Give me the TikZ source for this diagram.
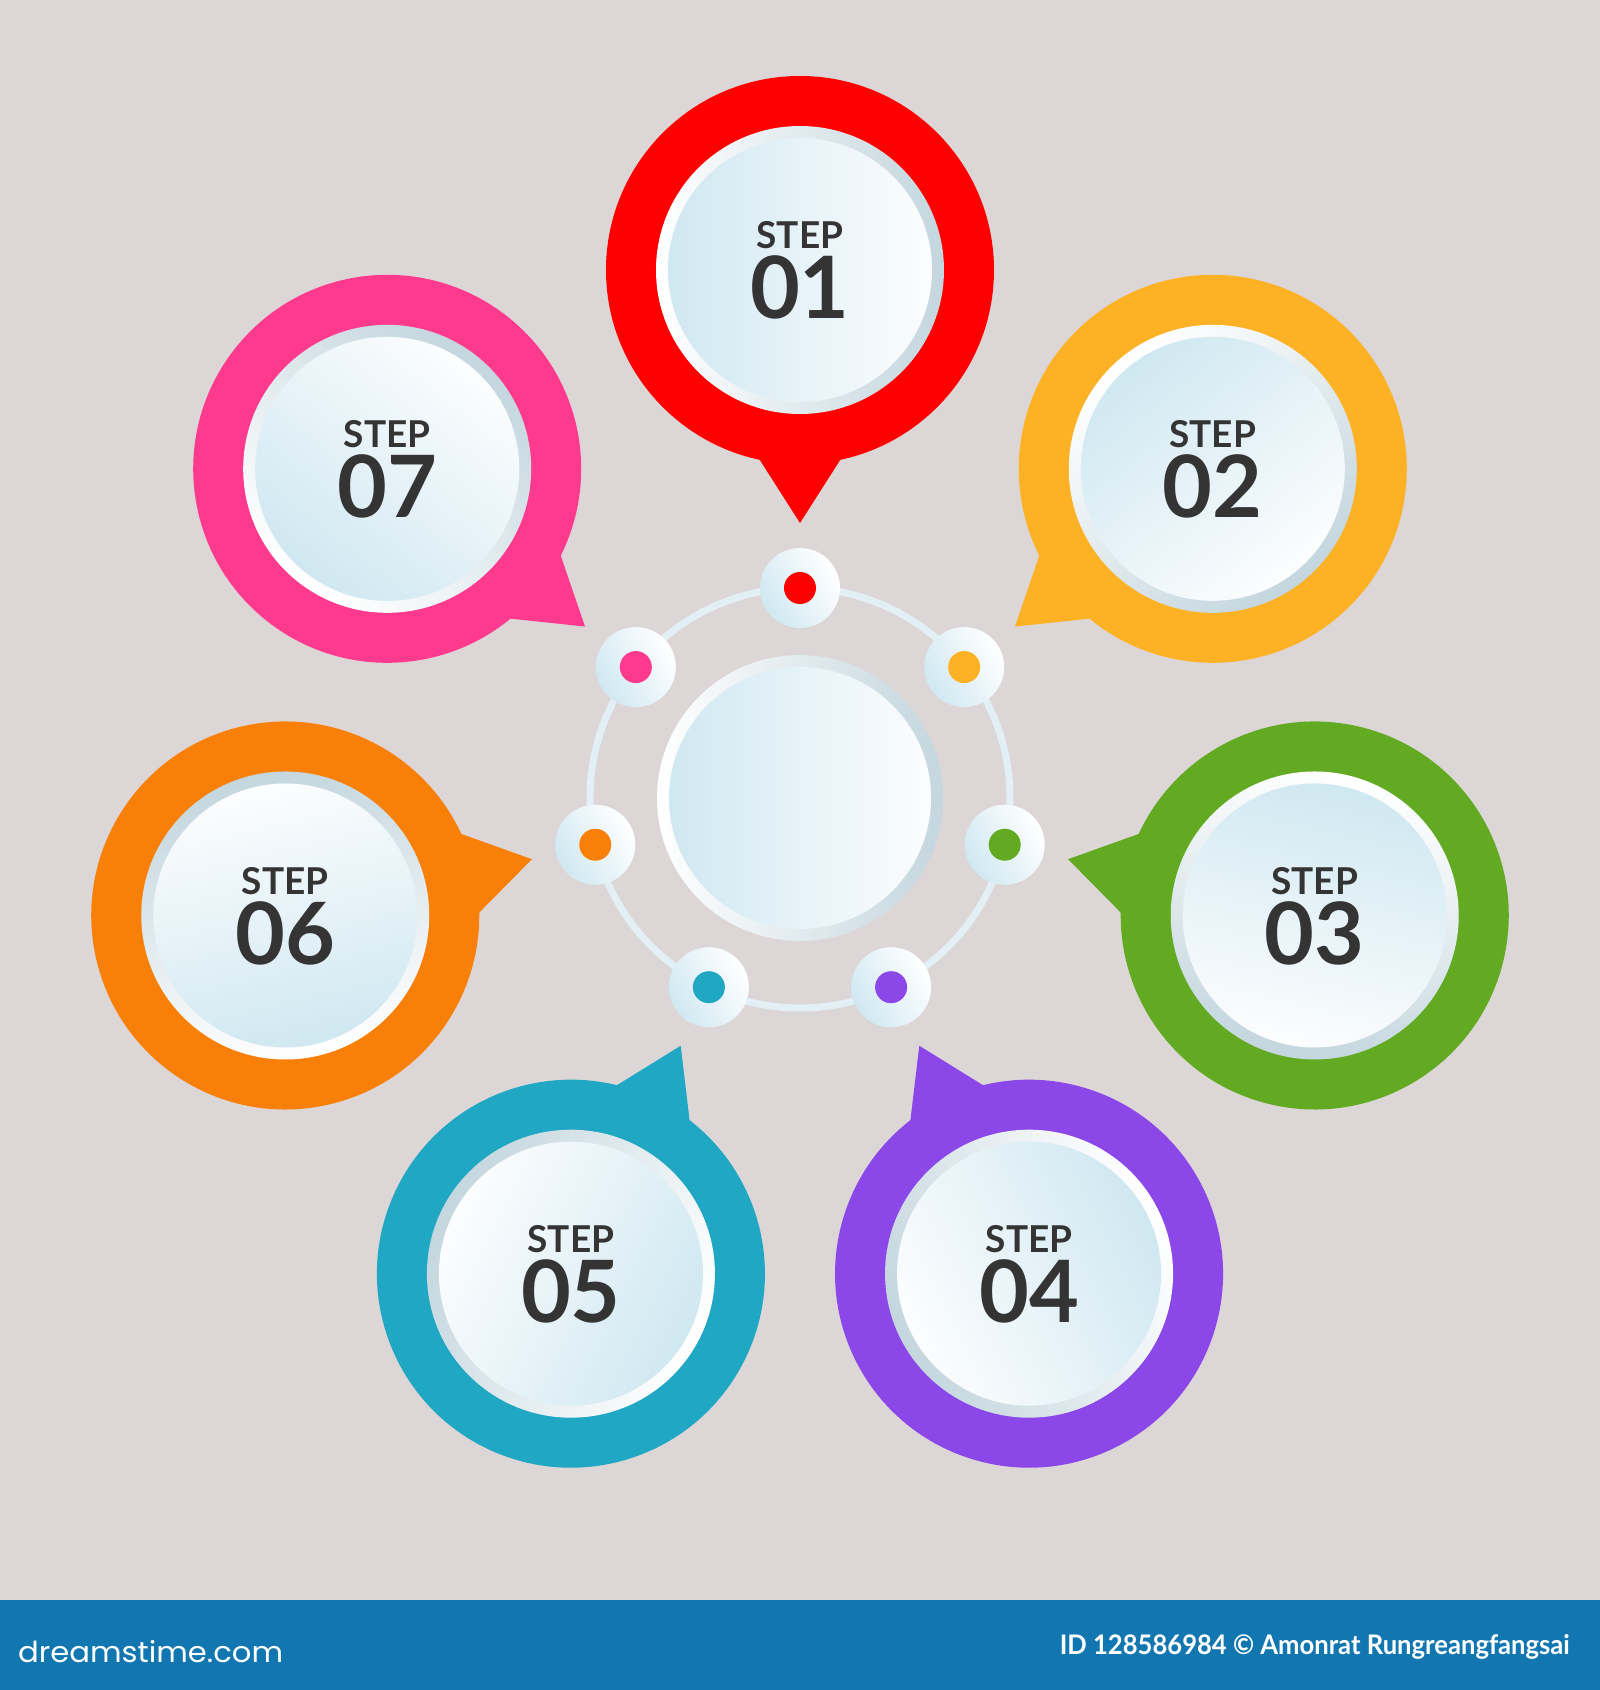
\documentclass[tikz,border=0pt]{standalone}
\usepackage{fontspec}
\newfontfamily\latofont{Lato}
\newfontfamily\popfont{Poppins}
\definecolor{bgc}{RGB}{221,214,214}
\definecolor{barc}{RGB}{18,119,176}
\definecolor{txt}{RGB}{52,52,52}
\definecolor{faceblue}{RGB}{208,232,241}
\definecolor{facewhite}{RGB}{252,253,254}
\definecolor{rimgrey}{RGB}{196,214,222}
\definecolor{ringc}{RGB}{226,239,244}
\definecolor{cRed}{RGB}{254,0,0}
\definecolor{cYel}{RGB}{253,177,36}
\definecolor{cGrn}{RGB}{98,170,34}
\definecolor{cPur}{RGB}{139,71,232}
\definecolor{cTea}{RGB}{31,167,196}
\definecolor{cOra}{RGB}{248,128,8}
\definecolor{cPin}{RGB}{254,58,143}
\newcommand{\steplabel}[1]{\ooalign{\hfil\raisebox{70pt}{\fontsize{37}{37}\selectfont STEP}\hfil\cr\hfil\fontsize{86}{86}\selectfont #1\hfil\cr}}
\tikzset{
  steptext/.style={font=\latofont\bfseries, text=txt, inner sep=0pt, anchor=base},
  face/.style={top color=faceblue, bottom color=facewhite},
  rim/.style={top color=white, bottom color=rimgrey},
  dotdisc/.style={top color=faceblue, bottom color=white},
}
\begin{document}
\begin{tikzpicture}[x=1pt,y=1pt]
\useasboundingbox (-800,-892) rectangle (800,798);
\fill[bgc] (-800,-892) rectangle (800,798);
\fill[barc] (-800,-892) rectangle (800,-802);
% ring
\draw[ringc, line width=7pt] (0,0) circle (210);
\foreach \k/\col/\num in {1/cRed/01,2/cYel/02,3/cGrn/03,4/cPur/04,5/cTea/05,6/cOra/06,7/cPin/07}{
  \pgfmathsetmacro\ang{90-(\k-1)*360/7}
  \begin{scope}[shift={(\ang:528)}]
    \begin{scope}[rotate=\ang-90]
      \fill[\col] (0,0) circle (194);
      \fill[\col] (-44,-184) -- (0,-253) -- (44,-184) -- cycle;
    \end{scope}
    \shade[rim, shading angle=\ang] (0,0) circle (144);
    \shade[face, shading angle=\ang] (0,0) circle (132);
    \node[steptext] (s\k) at (0,-49) {\steplabel{\num}};
  \end{scope}
  \shade[dotdisc, shading angle=120] (\ang:210) circle (40);
  \fill[\col] (\ang:210) circle (16);
}
% center circle
\shade[rim, shading angle=90] (0,0) circle (143);
\shade[face, shading angle=90] (0,0) circle (131);
% bottom bar texts
\node[anchor=base west, inner sep=0pt, text=white] (brand) at (-782,-864)
  {\resizebox{265pt}{22pt}{\popfont dreamstime.com}};
\node[anchor=base east, inner sep=0pt, text=white] (credit) at (770,-856)
  {\resizebox{510pt}{20pt}{\latofont\bfseries ID 128586984 © Amonrat Rungreangfangsai}};
\end{tikzpicture}
\end{document}
